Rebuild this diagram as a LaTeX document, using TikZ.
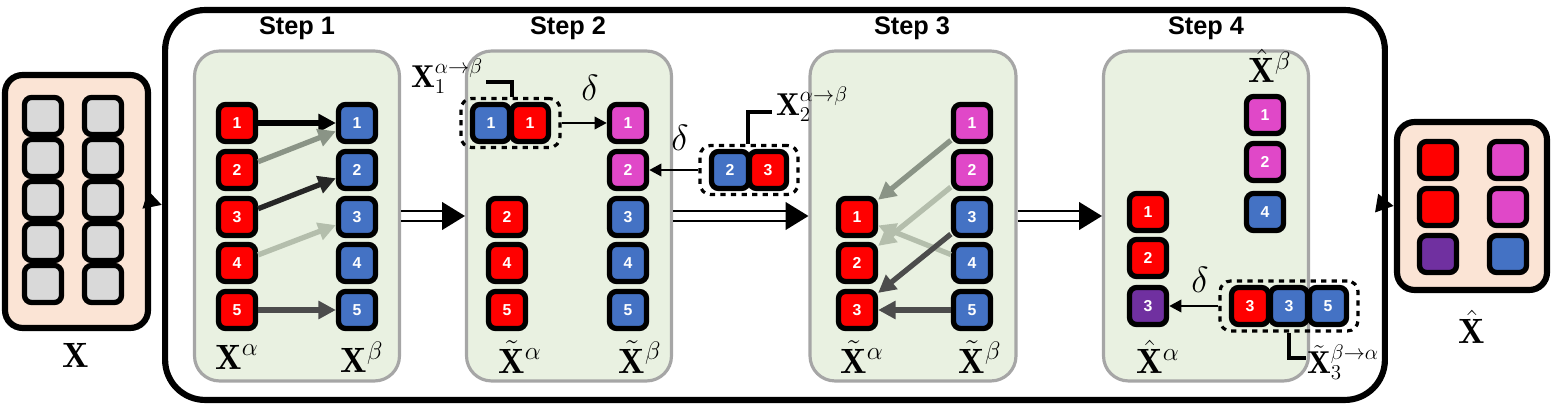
\documentclass[tikz,border=0pt]{standalone}
\usepackage{fontspec}
\setsansfont{Liberation Sans}
\usetikzlibrary{arrows.meta}
\definecolor{cred}{HTML}{FF0000}
\definecolor{cblue}{HTML}{4472C4}
\definecolor{cpink}{HTML}{E048C8}
\definecolor{cpurp}{HTML}{7030A0}
\definecolor{cgreyc}{HTML}{D9D9D9}
\definecolor{panelf}{HTML}{E9F1E1}
\definecolor{panels}{HTML}{A6A6A6}
\definecolor{peach}{HTML}{FBE4D5}
\definecolor{agray}{HTML}{8A9486}
\definecolor{alight}{HTML}{B4BEAC}
\begin{document}
\begin{tikzpicture}[x=0.02cm,y=-0.02cm,
 sq/.style={draw=black,line width=3pt,rounded corners=4pt,minimum size=0.74cm,inner sep=0pt,text=white,font=\sffamily\bfseries\small},
 gsq/.style={sq,fill=cgreyc},
 panel/.style={draw=panels,line width=1.8pt,fill=panelf,rounded corners=0.5cm},
 steplab/.style={font=\sffamily\bfseries\Large},
 mlab/.style={font=\fontsize{20}{22}\selectfont},
 slab/.style={font=\fontsize{18}{20}\selectfont},
 dbox/.style={draw=black,dashed,line width=1.8pt,rounded corners=6pt},
 arr/.style={line width=3pt,-{Triangle[length=10pt,width=10pt]}},
 thin/.style={line width=1.6pt,-{Triangle[length=7pt,width=7pt]}},
 brk/.style={line width=2pt}]
\useasboundingbox (0,0) rectangle (1555,411);
% input
\node[draw=black,line width=3.5pt,fill=peach,rounded corners=10pt,minimum width=2.86cm,minimum height=5.06cm] (in) at (76.5,201.5) {};
\foreach \r [count=\i] in {116,158,200,242,284}{
 \node[gsq] (inL\i) at (43,\r) {}; \node[gsq] (inR\i) at (103,\r) {};}
\node[mlab] (inlab) at (76,355) {$\mathbf{X}$};
% outer
\node[draw=black,line width=3.5pt,rounded corners=0.8cm,minimum width=24.4cm,minimum height=7.8cm] (outer) at (775,205) {};
\draw[arr] (in.east) -- (outer.west);
% output
\node[draw=black,line width=3.5pt,fill=peach,rounded corners=10pt,minimum width=3.0cm,minimum height=3.36cm] (out) at (1472,206) {};
\draw[arr] (outer.east) -- (out.west);
\node[sq,fill=cred] (o11) at (1438,160) {}; \node[sq,fill=cpink] (o12) at (1508,160) {};
\node[sq,fill=cred] (o21) at (1438,207) {}; \node[sq,fill=cpink] (o22) at (1508,207) {};
\node[sq,fill=cpurp] (o31) at (1438,254) {}; \node[sq,fill=cblue] (o32) at (1508,254) {};
\node[mlab] (outlab) at (1472,327) {$\hat{\mathbf{X}}$};
% step titles
\node[steplab] (t1) at (297,28) {Step 1};
\node[steplab] (t2) at (568,28) {Step 2};
\node[steplab] (t3) at (912,28) {Step 3};
\node[steplab] (t4) at (1206,28) {Step 4};
% panels
\node[panel,minimum width=4.1cm,minimum height=6.6cm] (p1) at (297,216) {};
\node[panel,minimum width=4.1cm,minimum height=6.6cm] (p2) at (569,216) {};
\node[panel,minimum width=4.12cm,minimum height=6.6cm] (p3) at (913,216) {};
\node[panel,minimum width=4.1cm,minimum height=6.6cm] (p4) at (1206,216) {};
% double arrows
\foreach \a/\b in {p1/p2,p2/p3,p3/p4}{
 \draw[line width=1.6pt] ([yshift=2.8pt]\a.east) -- ([yshift=2.8pt,xshift=-10pt]\b.west);
 \draw[line width=1.6pt] ([yshift=-2.8pt]\a.east) -- ([yshift=-2.8pt,xshift=-10pt]\b.west);
 \fill ([xshift=-13pt,yshift=8pt]\b.west) -- (\b.west) -- ([xshift=-13pt,yshift=-8pt]\b.west) -- cycle;}
% step 1
\foreach \r [count=\i] in {123,170,217,263,310}{
 \node[sq,fill=cred] (a\i) at (237,\r) {\i}; \node[sq,fill=cblue] (b\i) at (357,\r) {\i};}
\draw[arr,black] (a1) -- (b1);
\draw[arr,agray] (a2) -- (b1);
\draw[arr,black!85] (a3) -- (b2);
\draw[arr,alight] (a4) -- (b3);
\draw[arr,black!70] (a5) -- (b5);
\node[mlab] at (237,357) {$\mathbf{X}^{\alpha}$};
\node[mlab] at (362,357) {$\mathbf{X}^{\beta}$};
% step 2
\node[sq,fill=cblue] (c1b) at (491,123) {1};
\node[sq,fill=cred] (c1r) at (530,123) {1};
\node[dbox,minimum width=1.98cm,minimum height=0.98cm] (d1) at (510.5,123) {};
\foreach \r/\n in {217/2,263/4,310/5}{\node[sq,fill=cred] (e\n) at (507,\r) {\n};}
\node[sq,fill=cpink] (f1) at (628,123) {1};
\node[sq,fill=cpink] (f2) at (628,170) {2};
\foreach \r/\n in {217/3,263/4,310/5}{\node[sq,fill=cblue] (f\n) at (628,\r) {\n};}
\draw[thin] (d1.east) -- (f1.west);
\node[slab] (x1lab) at (447,76) {$\mathbf{X}_1^{\alpha\to\beta}$};
\coordinate (k1) at (512,82);
\draw[brk] (d1.north -| k1) -- (k1) -- (486,82);
\node[mlab] (del1) at (590,88) {$\delta$};
\node[mlab] at (520,357) {$\tilde{\mathbf{X}}^{\alpha}$};
\node[mlab] at (640,357) {$\tilde{\mathbf{X}}^{\beta}$};
\node[sq,fill=cblue] (g2b) at (730,170) {2};
\node[sq,fill=cred] (g2r) at (768,170) {3};
\node[dbox,minimum width=1.96cm,minimum height=0.98cm] (d2) at (749,170) {};
\draw[thin] (d2.west) -- (f2.east);
\coordinate (k2) at (748,112);
\draw[brk] (d2.north -| k2) -- (k2) -- (772,112);
\node[slab] (x2lab) at (812,104) {$\mathbf{X}_2^{\alpha\to\beta}$};
\node[mlab] (del2) at (680,138) {$\delta$};
% step 3
\foreach \r/\n in {217/1,263/2,310/3}{\node[sq,fill=cred] (h\n) at (857,\r) {\n};}
\node[sq,fill=cpink] (i1) at (972,123) {1};
\node[sq,fill=cpink] (i2) at (972,170) {2};
\foreach \r/\n in {217/3,263/4,310/5}{\node[sq,fill=cblue] (i\n) at (972,\r) {\n};}
\draw[arr,agray] (i1) -- (h1);
\draw[arr,alight] (i2) -- (h2);
\draw[arr,alight] (i4) -- (h1);
\draw[arr,black!70] (i3) -- (h3);
\draw[arr,black!70] (i5) -- (h3);
\node[mlab] at (862,357) {$\tilde{\mathbf{X}}^{\alpha}$};
\node[mlab] at (980,357) {$\tilde{\mathbf{X}}^{\beta}$};
% step 4
\node[sq,fill=cred] (j1) at (1148,212) {1};
\node[sq,fill=cred] (j2) at (1148,258) {2};
\node[sq,fill=cpurp] (j3) at (1148,306) {3};
\node[sq,fill=cpink] (l1) at (1265,115) {1};
\node[sq,fill=cpink] (l2) at (1265,162) {2};
\node[sq,fill=cblue] (l4) at (1265,212) {4};
\node[mlab] at (1270,66) {$\hat{\mathbf{X}}^{\beta}$};
\node[sq,fill=cred] (m1) at (1250,306) {3};
\node[sq,fill=cblue] (m2) at (1289,306) {3};
\node[sq,fill=cblue] (m3) at (1328,306) {5};
\node[dbox,minimum width=2.76cm,minimum height=1.0cm] (d3) at (1289,306) {};
\draw[thin] (d3.west) -- (j3.east);
\node[mlab] (del3) at (1200,280) {$\delta$};
\coordinate (k3) at (1289,358);
\draw[brk] (d3.south -| k3) -- (k3) -- (1306,358);
\node[slab] (x3lab) at (1343,362) {$\tilde{\mathbf{X}}_3^{\beta\to\alpha}$};
\node[mlab] at (1158,357) {$\hat{\mathbf{X}}^{\alpha}$};
\end{tikzpicture}
\end{document}
